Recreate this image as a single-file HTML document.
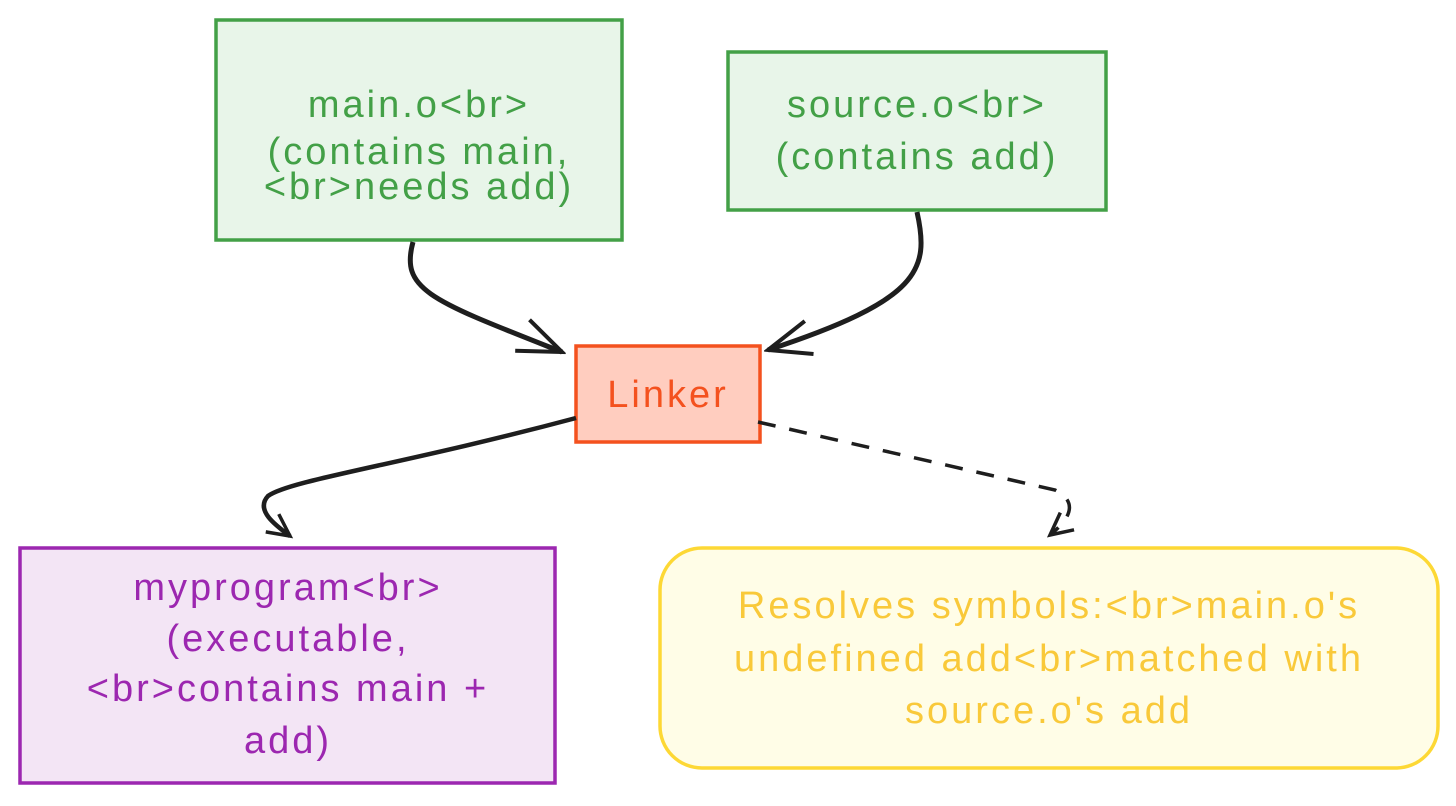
<!DOCTYPE html>
<html><head><meta charset="utf-8"><style>
body{margin:0;background:#fff;}
svg{display:block}
text{font-family:"Liberation Sans",sans-serif;font-size:38px;letter-spacing:3px;text-anchor:middle;font-weight:500;}
</style></head><body>
<svg width="1456" height="806" viewBox="0 0 1456 806" xmlns="http://www.w3.org/2000/svg">
<defs>
<marker id="ahb" markerWidth="50" markerHeight="40" refX="46" refY="20" orient="auto" markerUnits="userSpaceOnUse">
<path d="M4,2 L46,20 L2,36" fill="none" stroke="#1e1e1e" stroke-width="4"/></marker>
<marker id="ahs" markerWidth="30" markerHeight="30" refX="26" refY="15" orient="auto" markerUnits="userSpaceOnUse">
<path d="M4,4 L26,15 L4,26" fill="none" stroke="#1e1e1e" stroke-width="3.5"/></marker>
</defs>
<rect x="216" y="20" width="406" height="220" fill="#e8f5e9" stroke="#43a047" stroke-width="3.5"/>
<text fill="#43a047"><tspan x="419" y="117">main.o&lt;br&gt;</tspan><tspan x="419" y="164">(contains main,</tspan><tspan x="419" y="199">&lt;br&gt;needs add)</tspan></text>
<rect x="728" y="52" width="378" height="158" fill="#e8f5e9" stroke="#43a047" stroke-width="3.5"/>
<text fill="#43a047"><tspan x="917" y="117">source.o&lt;br&gt;</tspan><tspan x="917" y="169">(contains add)</tspan></text>
<rect x="576" y="346" width="184" height="96" fill="#ffcdbf" stroke="#f4511e" stroke-width="3.5"/>
<text fill="#f4511e" x="668" y="407">Linker</text>
<rect x="20" y="548" width="535" height="235" fill="#f3e5f5" stroke="#9c27b0" stroke-width="3.5"/>
<text fill="#9c27b0"><tspan x="288" y="600">myprogram&lt;br&gt;</tspan><tspan x="288" y="651">(executable,</tspan><tspan x="288" y="701">&lt;br&gt;contains main +</tspan><tspan x="288" y="753">add)</tspan></text>
<rect x="660" y="548" width="778" height="220" rx="42" fill="#fffde7" stroke="#fdd835" stroke-width="3.5"/>
<text fill="#f9c93a"><tspan x="1049" y="618">Resolves symbols:&lt;br&gt;main.o's</tspan><tspan x="1049" y="671">undefined add&lt;br&gt;matched with</tspan><tspan x="1049" y="723">source.o's add</tspan></text>
<path d="M413,242 C400,290 430,300 562,352" fill="none" stroke="#1e1e1e" stroke-width="5" marker-end="url(#ahb)"/>
<path d="M917,212 C930,270 920,300 768,350" fill="none" stroke="#1e1e1e" stroke-width="5" marker-end="url(#ahb)"/>
<path d="M576,418 C400,465 290,480 268,496 C255,510 275,525 290,536" fill="none" stroke="#1e1e1e" stroke-width="4.5" marker-end="url(#ahs)"/>
<path d="M758,422 L1055,490 C1075,500 1075,515 1050,535" fill="none" stroke="#1e1e1e" stroke-width="3.5" stroke-dasharray="18 14" marker-end="url(#ahs)"/>
</svg>
</body></html>
